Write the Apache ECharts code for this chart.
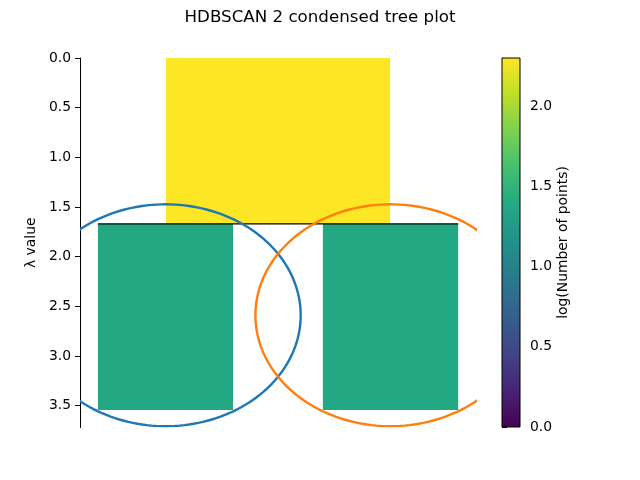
<!DOCTYPE html>
<html><head><meta charset="utf-8">
<script src="https://cdn.jsdelivr.net/npm/echarts@6/dist/echarts.min.js"></script>
<style>html,body{margin:0;padding:0;background:#fff}#c{width:640px;height:480px}</style>
</head><body><div id="c"></div>
<script>
// ---- data ----
const title = 'HDBSCAN 2 condensed tree plot';
const yTicks = [0, 0.5, 1.0, 1.5, 2.0, 2.5, 3.0, 3.5];
const cbTicks = [0, 0.5, 1.0, 1.5, 2.0];
// cluster bars: x start, x end, lambda start, lambda end, log(size)
const barX0 = [3.84, 0.80, 10.84];
const barX1 = [13.84, 6.83, 16.88];
const barL0 = [0.0, 1.67, 1.67];
const barL1 = [1.67, 3.545, 3.545];
const barLogSize = [2.3026, 1.386, 1.386];
// split line
const splitX = [0.80, 16.88];
const splitLambda = 1.67;
// selected-cluster ellipses: center x, center lambda, half width, half height
const ellCx = [3.82, 13.86];
const ellCy = [2.59, 2.59];
const ellRx = [6.03, 6.03];
const ellRy = [1.117, 1.117];
const ellColors = ['#1f77b4', '#ff7f0e'];
const xMax = 17.72, yMax = 3.72, cMax = 2.3026;

const viridis = ['#440154','#482475','#414487','#355f8d','#2a788e','#21918c','#22a884','#44bf70','#7ad151','#bddf26','#fde725'];
function hex2rgb(h){return [1,3,5].map(i=>parseInt(h.substr(i,2),16));}
function viridisAt(t){
  t=Math.max(0,Math.min(1,t));
  const p=t*10, i=Math.min(9,Math.floor(p)), f=p-i;
  const a=hex2rgb(viridis[i]), b=hex2rgb(viridis[i+1]);
  const c=a.map((v,k)=>Math.round(v+(b[k]-v)*f));
  return 'rgb('+c.join(',')+')';
}

const barData = barX0.map((x0,i)=>[x0, barX1[i], barL0[i], barL1[i], barLogSize[i]]);
const ellData = ellCx.map((cx,i)=>[cx, ellCy[i], ellRx[i], ellRy[i], i]);

const font = 'DejaVu Sans';
const chart = echarts.init(document.getElementById('c'), null, {renderer:'canvas'});
chart.setOption({
  animation:false,
  title:{text:title, left:'center', top:4, textStyle:{fontFamily:font, fontSize:16.7, fontWeight:'normal', color:'#000'}},
  grid:[
    {left:80, top:58, width:397, height:369.5},
    {left:502, top:58, width:18, height:369}
  ],
  xAxis:[
    {gridIndex:0, type:'value', min:0, max:xMax, show:false},
    {gridIndex:1, type:'value', min:0, max:1, show:false}
  ],
  yAxis:[
    {gridIndex:0, type:'value', inverse:true, min:0, max:yMax, interval:0.5,
     name:'λ value', nameLocation:'middle', nameGap:33, nameRotate:90,
     nameTextStyle:{fontFamily:font, fontSize:13.9, color:'#000'},
     axisLine:{show:true, lineStyle:{color:'#000', width:1}},
     axisTick:{show:true, length:5, lineStyle:{color:'#000', width:1}, customValues:yTicks},
     axisLabel:{fontFamily:font, fontSize:13.9, color:'#000', margin:9, customValues:yTicks, formatter:v=>v.toFixed(1)},
     splitLine:{show:false}},
    {gridIndex:1, type:'value', min:0, max:cMax, position:'right', interval:0.5,
     name:'log(Number of points)', nameLocation:'middle', nameGap:36, nameRotate:90,
     nameTextStyle:{fontFamily:font, fontSize:13.9, color:'#000'},
     axisLine:{show:false},
     axisTick:{show:true, inside:false, length:5, lineStyle:{color:'#000', width:1}, customValues:cbTicks},
     axisLabel:{fontFamily:font, fontSize:13.9, color:'#000', margin:10, customValues:cbTicks, formatter:v=>v.toFixed(1)},
     splitLine:{show:false}}
  ],
  series:[
    {type:'custom', xAxisIndex:0, yAxisIndex:0, clip:true, data:barData, z:1,
     renderItem:(params, api)=>{
       const p0=api.coord([api.value(0), api.value(2)]);
       const p1=api.coord([api.value(1), api.value(3)]);
       return {type:'rect', shape:{x:p0[0], y:p0[1], width:p1[0]-p0[0], height:p1[1]-p0[1]},
               style:{fill:viridisAt(api.value(4)/cMax)}};
     }},
    {type:'line', xAxisIndex:0, yAxisIndex:0, data:[[splitX[0], splitLambda],[splitX[1], splitLambda]],
     symbol:'none', lineStyle:{color:'#000', width:1.3}, z:2},
    {type:'custom', xAxisIndex:0, yAxisIndex:0, clip:true, data:ellData, z:3,
     renderItem:(params, api)=>{
       const c=api.coord([api.value(0), api.value(1)]);
       const s=api.size([api.value(2), api.value(3)]);
       const pts=[];
       for(let k=0;k<=180;k++){const a=k/180*2*Math.PI; pts.push([c[0]+s[0]*Math.cos(a), c[1]+s[1]*Math.sin(a)]);}
       return {type:'polygon', shape:{points:pts},
               style:{fill:'none', stroke:ellColors[api.value(4)], lineWidth:2.4}};
     }},
    {type:'custom', xAxisIndex:1, yAxisIndex:1, clip:false, data:[[0, 1, 0, cMax]], z:1,
     renderItem:(params, api)=>{
       const p0=api.coord([api.value(0), api.value(3)]);
       const p1=api.coord([api.value(1), api.value(2)]);
       const stops=viridis.map((c,i)=>({offset:1-i/10, color:c}));
       return {type:'rect', shape:{x:p0[0], y:p0[1], width:p1[0]-p0[0], height:p1[1]-p0[1]},
               style:{fill:new echarts.graphic.LinearGradient(0,0,0,1,stops), stroke:'#000', lineWidth:1}};
     }}
  ]
});
</script></body></html>
